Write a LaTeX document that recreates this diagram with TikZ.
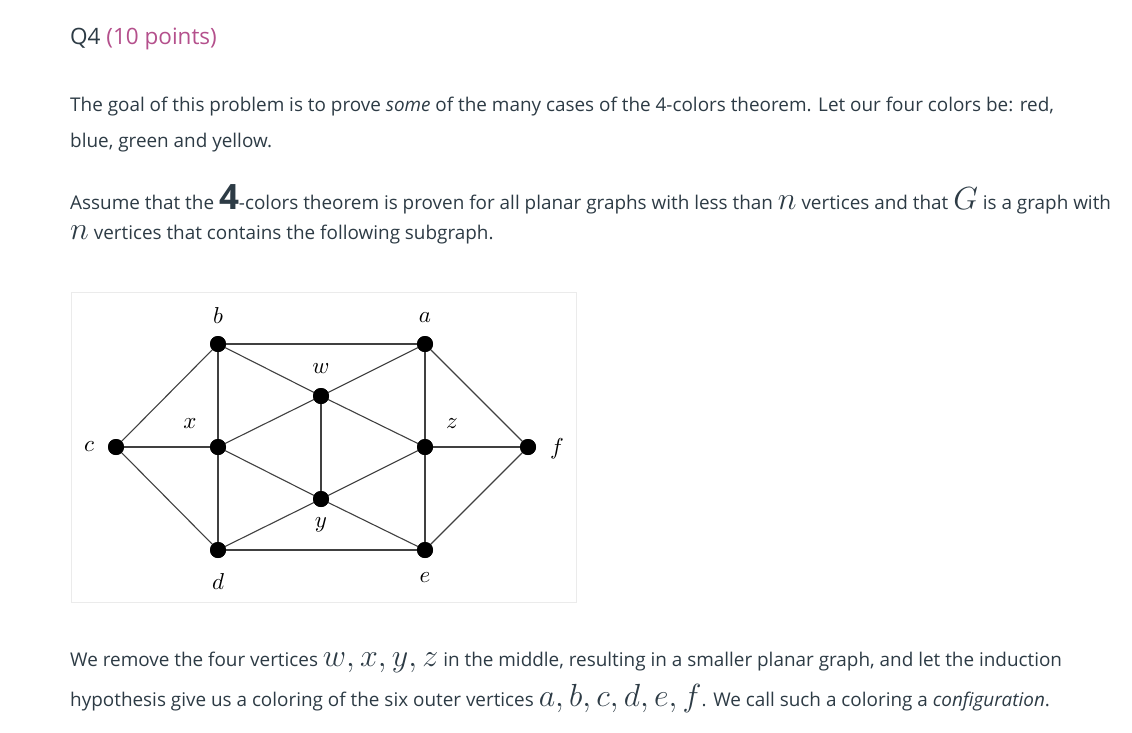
\documentclass[tikz,border=0pt]{standalone}
\usepackage{graphicx}
\usepackage{fontspec}
\setmainfont{Open Sans}
\newcommand{\mym}[1]{\scalebox{1.85}{$#1$}}
\definecolor{pts}{HTML}{B4508C}
\definecolor{txt}{HTML}{2D3B45}
\begin{document}
\begin{tikzpicture}[x=1pt,y=-1pt,
  vtx/.style={circle,fill=black,inner sep=0pt,minimum size=16pt},
  lbl/.style={scale=2.3},
  para/.style={anchor=west,inner sep=0pt,text=txt,font=\fontsize{18.9}{22}\selectfont},
  edge/.style={draw=black!75,line width=1.1pt}]
\useasboundingbox (0,0) rectangle (1132,732);
\node[anchor=west,inner sep=0pt,text=txt,font=\fontsize{22.5}{24}\selectfont] (title) at (70,39) {Q4 \textcolor{pts}{(10 points)}};
\node[para] (p1) at (70,107) {The goal of this problem is to prove \emph{some} of the many cases of the 4-colors theorem. Let our four colors be: red,};
\node[para] (p2) at (70,143) {blue, green and yellow.};
\node[para] (p3) at (70,199) {Assume that the \mym{\mathbf{4}}-colors theorem is proven for all planar graphs with less than \mym{n} vertices and that \mym{G} is a graph with};
\node[para] (p4) at (70,235) {\mym{n} vertices that contains the following subgraph.};
\node[para] (p5) at (70,662) {We remove the four vertices \mym{w,x,y,z} in the middle, resulting in a smaller planar graph, and let the induction};
\node[para] (p6) at (70,698) {hypothesis give us a coloring of the six outer vertices \mym{a,b,c,d,e,f}. We call such a coloring a \emph{configuration}.};
\draw[black!8,line width=0.8pt] (71,292) rectangle (576,602);
\node[vtx] (b) at (218,344) {};
\node[vtx] (a) at (425,344) {};
\node[vtx] (w) at (321,396) {};
\node[vtx] (c) at (116,447) {};
\node[vtx] (x) at (218,447) {};
\node[vtx] (z) at (425,447) {};
\node[vtx] (f) at (528,447) {};
\node[vtx] (y) at (321,499) {};
\node[vtx] (d) at (218,550) {};
\node[vtx] (e) at (425,550) {};
\foreach \u/\v in {b/a,b/c,b/x,b/w,a/w,a/z,a/f,c/x,c/d,x/w,x/y,x/d,w/y,w/z,z/y,z/f,z/e,y/d,y/e,d/e,e/f}
  \draw[edge] (\u.center) -- (\v.center);
\foreach \n in {a,b,c,d,e,f,w,x,y,z} \fill (\n) circle (8pt);
\node[lbl] (lb) at (218,316) {$b$};
\node[lbl] (la) at (425,318) {$a$};
\node[lbl] (lw) at (321,369) {$w$};
\node[lbl] (lx) at (190,424) {$x$};
\node[lbl] (lz) at (452,424) {$z$};
\node[lbl] (lc) at (89,447) {$c$};
\node[lbl] (lf) at (557,449) {$f$};
\node[lbl] (ly) at (321,525) {$y$};
\node[lbl] (ld) at (218,582) {$d$};
\node[lbl] (le) at (425,578) {$e$};
\end{tikzpicture}
\end{document}
